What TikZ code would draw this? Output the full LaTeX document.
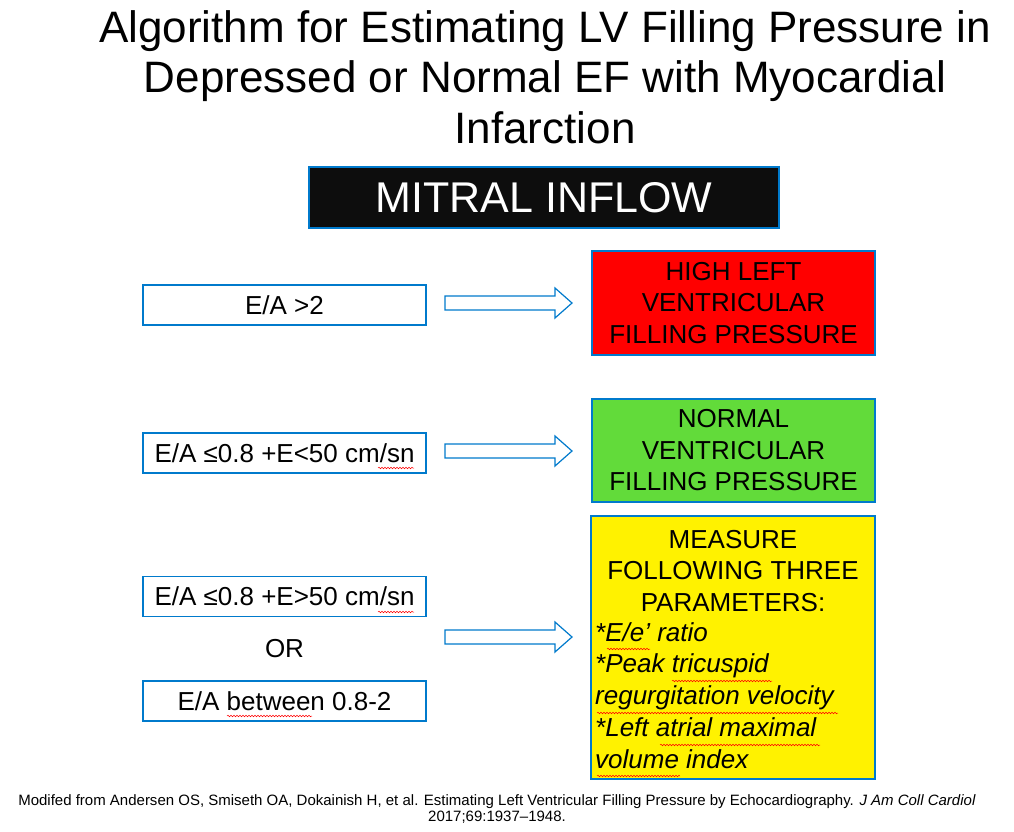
\documentclass[tikz,border=0pt]{standalone}
\usepackage{fontspec}
\setmainfont{Liberation Sans}
\usetikzlibrary{decorations.pathmorphing}
\begin{document}
\begin{tikzpicture}[x=1pt,y=-1pt,
  bx/.style={draw=blue!40!cyan!80!black, line width=1.2pt},
  lbl/.style={font=\fontsize{26}{31.5}\selectfont, align=center},
  lbox/.style={bx, minimum width=283pt, minimum height=40pt, lbl},
  rbox/.style={bx, minimum width=283pt, lbl},
  hollow/.style={draw=blue!40!cyan!80!black, line width=1.2pt, fill=white},
  squig/.style={red, line width=0.5pt, decorate, decoration={snake, amplitude=0.8pt, segment length=3pt}}]
\useasboundingbox (0,0) rectangle (1014,832);
\node[font=\fontsize{44}{50.5}\selectfont, align=center] (title) at (545,77)
  {Algorithm for Estimating LV Filling Pressure in\\Depressed or Normal EF with Myocardial\\Infarction};
\node[bx, fill=black!95, minimum width=470pt, minimum height=61pt, text=white,
  font=\fontsize{43}{45}\selectfont] (mi) at (544,197.5) {MITRAL INFLOW};
% left boxes
\node[lbox] (a) at (284.5,305) {E/A \textgreater2};
\node[lbox] (b) at (284.5,453) {E/A \symbol{"2264}0.8 +E\textless50 cm/sn};
\node[lbox] (c) at (284.5,596.5) {E/A \symbol{"2264}0.8 +E\textgreater50 cm/sn};
\node[lbl] (or) at (284.5,649) {OR};
\node[lbox] (d) at (284.5,701) {E/A between 0.8-2};
% right boxes
\node[rbox, fill=red, minimum height=104pt] (r1) at (733.5,303) {HIGH LEFT\\VENTRICULAR\\FILLING PRESSURE};
\node[rbox, minimum height=103pt, fill={rgb,255:red,98;green,219;blue,58}] (r2) at (733.5,450.5) {NORMAL\\VENTRICULAR\\FILLING PRESSURE};
\node[bx, fill=yellow, minimum width=284pt, minimum height=263pt] (r3) at (733,647.5) {};
\node[lbl, anchor=north] (t3) at ([yshift=-11pt]r3.north) {MEASURE\\FOLLOWING THREE\\PARAMETERS:};
\node[lbl, anchor=north west, align=left, inner sep=0pt, font=\fontsize{26}{31.8}\itshape] (p3) at (595,622)
  {*E/e\textquoteright{} ratio\\*Peak tricuspid\\regurgitation velocity\\*Left atrial maximal\\volume index};
% hollow arrows
\foreach \y in {303, 451, 637}{
  \draw[hollow] (445,\y-7) -- (555,\y-7) -- (555,\y-15) -- (572,\y) -- (555,\y+15) -- (555,\y+7) -- (445,\y+7) -- cycle;
}
% spell-check underlines
\draw[squig] (378,468) -- (414,468);
\draw[squig] (378,612) -- (414,612);
\draw[squig] (227,716) -- (312,716);
\draw[squig] (607,649) -- (650,649);
\draw[squig] (672,681) -- (772,681);
\draw[squig] (597,713) -- (838,713);
\draw[squig] (660,745) -- (820,745);
\draw[squig] (597,776) -- (680,776);
% footer
\node[font=\fontsize{15}{16.5}\selectfont, align=center] (foot) at (497,809)
  {Modifed from Andersen OS, Smiseth OA, Dokainish H, et al. Estimating Left Ventricular Filling Pressure by Echocardiography. \textit{J Am Coll Cardiol}\\2017;69:1937\textendash1948.};
\end{tikzpicture}
\end{document}
